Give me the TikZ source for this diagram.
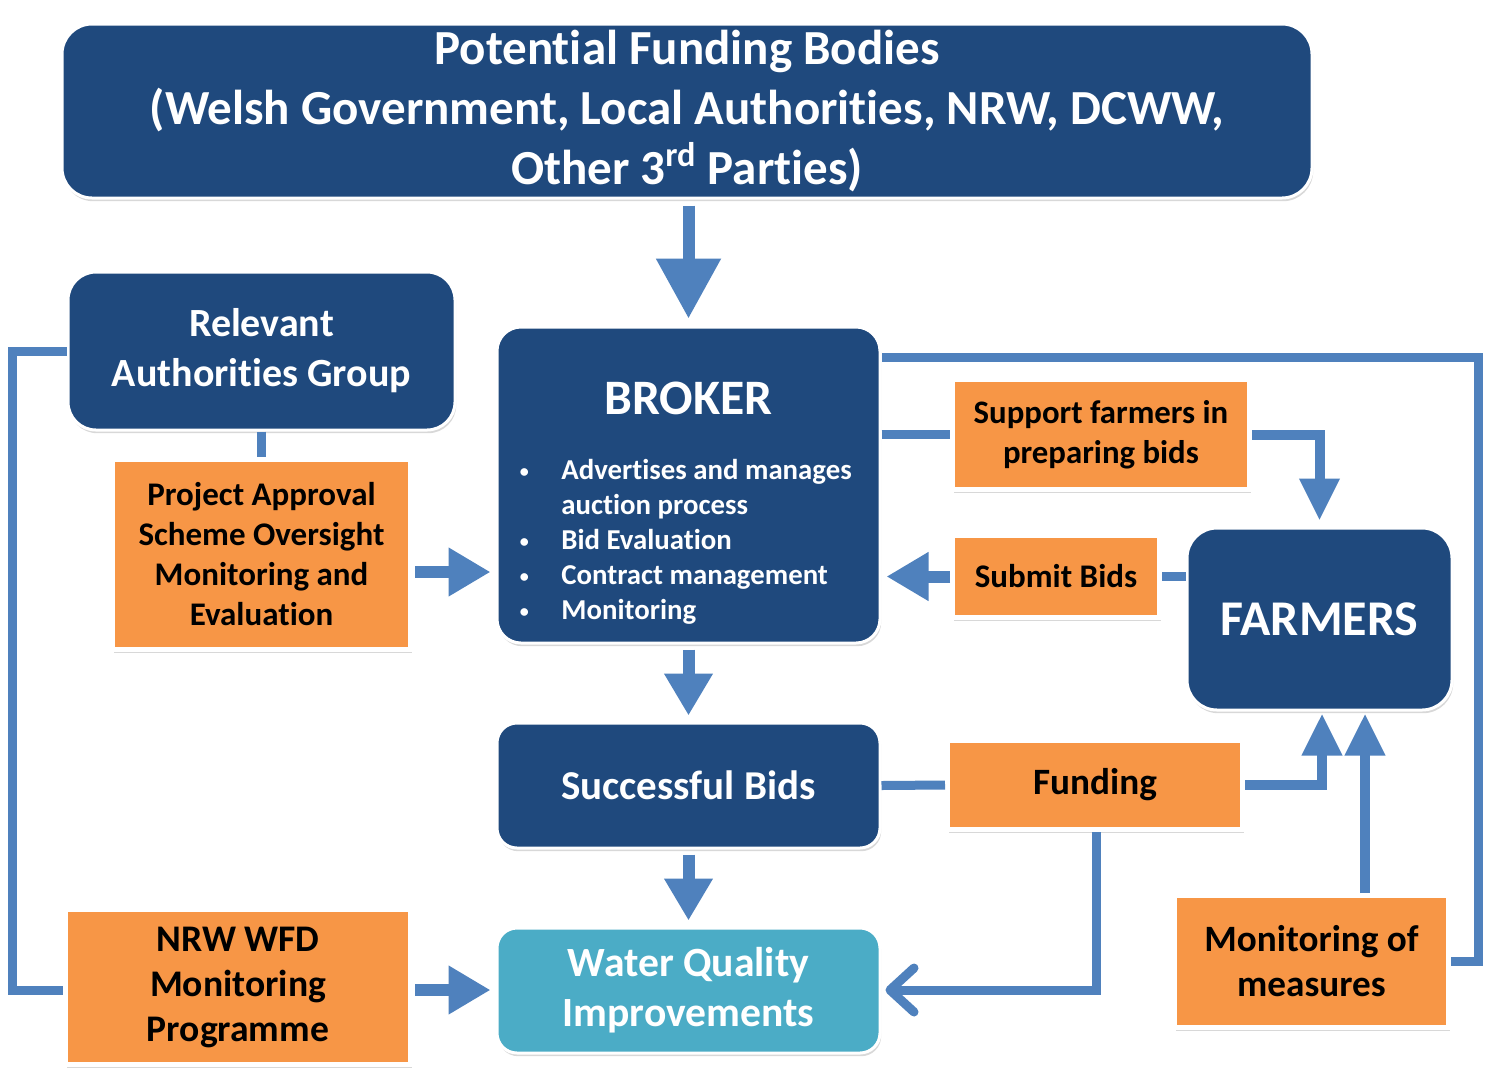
\documentclass[tikz,border=0pt]{standalone}
\usepackage{fontspec}
\setmainfont{Carlito}[Ligatures=NoCommon]
\usetikzlibrary{arrows.meta,shadows}
\definecolor{dblue}{HTML}{1F497D}
\definecolor{lorange}{HTML}{F79646}
\definecolor{tealc}{HTML}{4BACC6}
\definecolor{ablue}{HTML}{4F81BD}
\newcommand{\bul}{\makebox[22pt][l]{\hspace*{1.2pt}\raisebox{1.2pt}{\fontsize{9}{9}\selectfont•}}}
\begin{document}
\begin{tikzpicture}[x=0.5pt,y=-0.5pt,
  boxbase/.style={draw=white, line width=1.5pt, align=center, inner sep=0pt,
    drop shadow={shadow xshift=0.6pt,shadow yshift=-1.6pt,opacity=0.3}},
  darkbox/.style={boxbase, fill=dblue, text=white, rounded corners=12pt},
  orangebox/.style={boxbase, fill=lorange, text=black, line width=2.5pt},
  tealbox/.style={boxbase, fill=tealc, text=white, rounded corners=10pt},
  conn/.style={draw=ablue, line width=4.5pt},
  bigarrow/.style={draw=ablue, line width=6pt, -{Triangle[width=31pt,length=30pt]}},
  midarrow/.style={draw=ablue, line width=6pt, -{Triangle[width=23pt,length=21pt]}},
  smallarrow/.style={draw=ablue, line width=5pt, -{Triangle[width=19pt,length=21pt]}},
  openarrow/.style={draw=ablue, line width=4.5pt, -{Straight Barb[length=12pt,width=22pt,round]}}
]
\useasboundingbox (0,0) rectangle (1490,1078);
\fill[white] (0,0) rectangle (1490,1078);

% nodes
\node[darkbox, minimum width=625pt, minimum height=87pt, rounded corners=15pt,
  font=\bfseries\fontsize{24.5}{30}\selectfont] (top) at (687,111)
  {Potential Funding Bodies\\(Welsh Government, Local Authorities, NRW, DCWW,\\Other 3\textsuperscript{rd} Parties)};

\node[darkbox, minimum width=193.5pt, minimum height=79pt, rounded corners=14pt,
  font=\bfseries\fontsize{20}{25}\selectfont] (rag) at (261.5,351)
  {Relevant\\Authorities Group};

\node[darkbox, minimum width=191.5pt, minimum height=158pt] (broker) at (688.5,485) {};
\node[text=white, font=\bfseries\fontsize{24.8}{28}\selectfont] (brokertitle) at (688.5,398) {BROKER};
\node[anchor=west, align=left, text=white, inner sep=0pt,
  font=\bfseries\fontsize{14.4}{17.5}\selectfont] (brokerlist) at (517,542)
  {\bul Advertises and manages\\
   \hspace*{22pt}auction process\\
   \bul Bid Evaluation\\
   \bul Contract management\\
   \bul Monitoring};

\node[orangebox, minimum width=149pt, minimum height=95pt,
  font=\bfseries\fontsize{16.5}{20}\selectfont] (proj) at (261.5,554.5)
  {Project Approval\\Scheme Oversight\\Monitoring and\\Evaluation};

\node[orangebox, minimum width=172.5pt, minimum height=77.5pt,
  font=\bfseries\fontsize{18.8}{22.5}\selectfont] (nrw) at (238,987)
  {NRW WFD\\Monitoring\\Programme};

\node[tealbox, minimum width=191.5pt, minimum height=62.5pt,
  font=\bfseries\fontsize{20.8}{25}\selectfont] (wq) at (688.5,990.5)
  {Water Quality\\Improvements};

\node[darkbox, minimum width=191.5pt, minimum height=62.5pt, rounded corners=10pt,
  font=\bfseries\fontsize{20.5}{22}\selectfont] (succ) at (688.5,785.5)
  {Successful Bids};

\node[orangebox, minimum width=148.5pt, minimum height=55pt,
  font=\bfseries\fontsize{16.4}{20}\selectfont] (support) at (1101,434.5)
  {Support farmers in\\preparing bids};

\node[darkbox, minimum width=132.5pt, minimum height=91pt, rounded corners=15pt,
  font=\bfseries\fontsize{25}{28}\selectfont] (farmers) at (1319.5,619)
  {FARMERS};

\node[orangebox, minimum width=103.5pt, minimum height=41pt,
  font=\bfseries\fontsize{16.5}{20}\selectfont] (submit) at (1056,576.5)
  {Submit Bids};

\node[orangebox, minimum width=147.5pt, minimum height=44.5pt,
  font=\bfseries\fontsize{18.6}{22}\selectfont] (funding) at (1095,785)
  {Funding};

\node[orangebox, minimum width=137pt, minimum height=66pt,
  font=\bfseries\fontsize{18.6}{22.5}\selectfont] (monitor) at (1311.5,961.5)
  {Monitoring of\\measures};

% connectors
\draw[bigarrow, shorten <=3pt, shorten >=3.5pt] (top.south -| broker.north) -- (broker.north);
\draw[midarrow, shorten <=2.5pt, shorten >=3pt] (broker.south) -- (succ.north);
\draw[midarrow, shorten <=2.5pt, shorten >=3pt] (succ.south) -- (wq.north);
\draw[midarrow, shorten <=1pt, shorten >=2.5pt] (proj.east |- 0,572) -- (broker.west |- 0,572);
\draw[midarrow, shorten <=1pt, shorten >=2.5pt] (nrw.east |- 0,990) -- (wq.west |- 0,990);
\draw[midarrow, shorten >=2.5pt] (submit.west) -- (broker.east |- submit.west);
\draw[conn] (farmers.west |- submit.east) -- (submit.east);
\draw[conn] (broker.east |- support.west) -- (support.west);
\draw[smallarrow, shorten >=3pt] (support.east) -| (farmers.north);
\draw[conn] (succ.east) -- (funding.west);
\draw[smallarrow, shorten >=1pt] (funding.east) -| (1322,0 |- farmers.south);
\draw[smallarrow, shorten >=1pt] (monitor.north -| 1365,0) -- (1365,0 |- farmers.south);
\draw[openarrow, shorten >=2pt] (funding.south -| 1096,0) |- (wq.east |- 0,990);
\draw[conn] (rag.south) -- (proj.north);
\draw[conn] (rag.west) -| (12,990) -- (nrw.west |- 0,990);
\draw[conn] (monitor.east) -- (1478,961.5) -- (1478,357) -- (broker.east |- 0,357);
\end{tikzpicture}
\end{document}
